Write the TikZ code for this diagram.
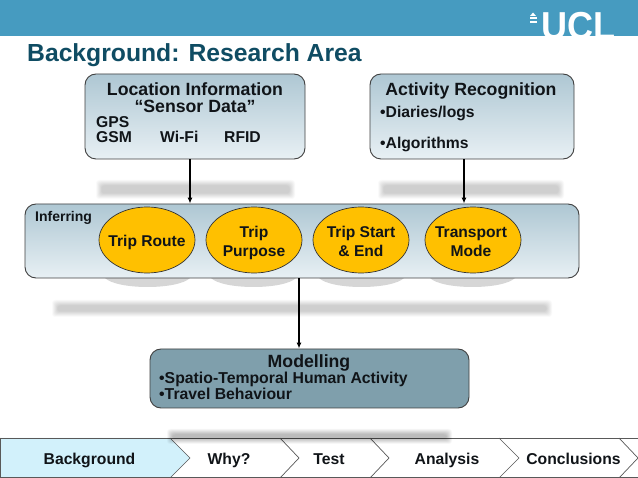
\documentclass[tikz,border=0pt]{standalone}
\usepackage{fontspec}
\setmainfont{Liberation Sans}
\definecolor{hdr}{HTML}{469BC0}
\definecolor{ttl}{HTML}{0F4C63}
\definecolor{gtop}{HTML}{AEC7D3}
\definecolor{gbot}{HTML}{E8F0F4}
\definecolor{modelc}{HTML}{7F9FAC}
\definecolor{orangeb}{HTML}{FFC000}
\definecolor{bgtab}{HTML}{D2F1FB}
\definecolor{ink}{HTML}{101418}
\newcommand{\softshadow}[5]{%
  \foreach \i in {0,...,11}{
    \fill[black,opacity=#5,rounded corners=3pt]
      ({#1-6+0.5*\i},{#2-6+0.5*\i}) rectangle ({#3+6-0.5*\i},{#4+6-0.5*\i});
  }}
\tikzset{
  x=1pt,y=-1pt,
  panel/.style={draw=black!75,line width=0.9pt,rounded corners=11pt,top color=gtop,bottom color=gbot},
  modelbox/.style={draw=black!75,line width=0.9pt,rounded corners=11pt,fill=modelc},
  oval/.style={ellipse,draw=black!80,line width=0.7pt,fill=orangeb,minimum width=96pt,minimum height=66pt,inner sep=0pt},
  ovaltext/.style={inner sep=0pt,align=center,text=ink,font=\fontsize{15.6}{19}\selectfont\bfseries},
  lbl/.style={inner sep=0pt,anchor=base west,text=ink,font=\fontsize{15.7}{16}\selectfont\bfseries},
  head/.style={inner sep=0pt,align=center,text=ink,font=\fontsize{17.7}{16.7}\selectfont\bfseries},
  tab/.style={inner sep=0pt,anchor=base,text=ink,font=\fontsize{15.7}{18}\selectfont\bfseries},
  conn/.style={draw=black,line width=1.3pt,-{Latex[length=6pt,width=5pt]}},
  chev/.style={draw=black!65,line width=0.7pt},
}
\usetikzlibrary{shapes.geometric,arrows.meta}
\begin{document}
\begin{tikzpicture}
\useasboundingbox (0,0) rectangle (638,478);
\fill[white] (0,0) rectangle (638,478);
% header
\fill[hdr] (0,0) rectangle (638,36);
\begin{scope}
\clip (0,0) rectangle (638,36);
\node[inner sep=0pt,anchor=base west,xscale=0.925,text=white,font=\fontsize{39}{39}\selectfont\bfseries] (ucl) at (541.5,40) {UCL};
\end{scope}
\fill[white] (533,12.5) -- (536,16) -- (530,16) -- cycle;
\fill[white] (529.5,17.5) rectangle (536.5,19.5);
\fill[white] (529.5,21) rectangle (536.5,23);
\node[inner sep=0pt,anchor=base west,text=ttl,font=\fontsize{24.7}{26}\selectfont\bfseries] (title) at (27,62) {Background: Research Area};
% blurred shadows
\softshadow{102}{186}{289}{193}{0.015}
\softshadow{384}{186}{558}{193}{0.015}
\softshadow{58}{306}{546}{311}{0.015}
% boxes
\node[panel,minimum width=220pt,minimum height=85pt,inner sep=0pt] (loc) at (195,116.5) {};
\node[panel,minimum width=204pt,minimum height=85pt,inner sep=0pt] (act) at (472,116.5) {};
\foreach \a/\b in {105/190,211/296,319/404,430/515}{
  \fill[black,opacity=0.16] (\a,278) .. controls (\a+12,290) and (\b-12,290) .. (\b,278) -- cycle;
}
\node[panel,minimum width=554pt,minimum height=74pt,inner sep=0pt] (inf) at (302,241) {};
\node[modelbox,minimum width=319pt,minimum height=59pt,inner sep=0pt] (model) at (309.5,378.5) {};
% box texts
\node[head] (lochead) at (195,98) {Location Information\\“Sensor Data”};
\node[lbl] (gps) at (96,127.5) {GPS};
\node[lbl] (gsm) at (96,143) {GSM};
\node[lbl] (wifi) at (160,143) {Wi-Fi};
\node[lbl] (rfid) at (224,143) {RFID};
\node[head,anchor=base] (acthead) at (471,95.7) {Activity Recognition};
\node[lbl] (diary) at (380,118) {•Diaries/logs};
\node[lbl] (algo) at (380,148.5) {•Algorithms};
\node[lbl,font=\fontsize{14}{15}\selectfont\bfseries] (infl) at (35,222) {Inferring};
\node[oval] (o1) at (147,240) {};
\node[oval] (o2) at (254,240) {};
\node[oval] (o3) at (361,240) {};
\node[oval] (o4) at (473,240) {};
\node[ovaltext,anchor=base] (o1t) at (147,246.7) {Trip Route};
\node[ovaltext] (o2t) at (254,243) {Trip\\Purpose};
\node[ovaltext] (o3t) at (361,241.7) {Trip Start\\\& End};
\node[ovaltext] (o4t) at (471,241.7) {Transport\\Mode};
\node[head,anchor=base] (modh) at (309,368) {Modelling};
\node[lbl,font=\fontsize{15.8}{17}\selectfont\bfseries] (m1) at (159,383.7) {•Spatio-Temporal Human Activity};
\node[lbl,font=\fontsize{15.8}{17}\selectfont\bfseries] (m2) at (159,400) {•Travel Behaviour};
% connectors
\coordinate (c1) at (190,180);
\coordinate (c2) at (464,180);
\coordinate (c3) at (299,300);
\draw[conn] (c1|-loc.south) -- (c1|-inf.north);
\draw[conn] (c2|-act.south) -- (c2|-inf.north);
\draw[conn] (c3|-inf.south) -- (c3|-model.north);
% navigation strip
\fill[bgtab] (0,438) -- (170,438) -- (190,458) -- (170,478) -- (0,478) -- cycle;
\draw[chev] (0,438) -- (638,438);
\draw[chev] (0,477.5) -- (638,477.5);
\draw[chev] (0.4,438) -- (0.4,478);
\draw[chev] (170,438) -- (190,458) -- (170,478);
\draw[chev] (280,438) -- (299,458) -- (280,478);
\draw[chev] (370,438) -- (389,458) -- (370,478);
\draw[chev] (499,438) -- (519,458) -- (499,478);
\draw[chev] (619,438) -- (638,458) -- (619,478);
\softshadow{173}{435}{446}{438}{0.025}
\node[tab] (t1) at (89.5,464.3) {Background};
\node[tab] (t2) at (229,464.3) {Why?};
\node[tab] (t3) at (329,464.3) {Test};
\node[tab] (t4) at (447,464.3) {Analysis};
\node[tab] (t5) at (573.5,464.3) {Conclusions};
\end{tikzpicture}
\end{document}
